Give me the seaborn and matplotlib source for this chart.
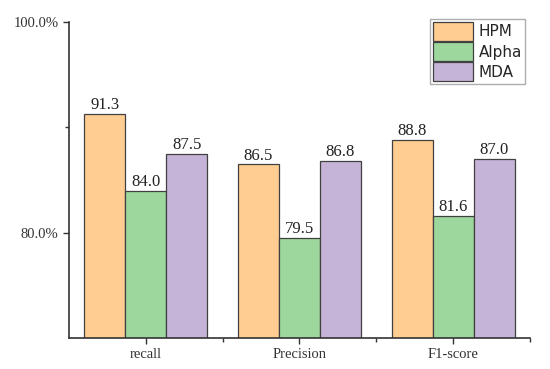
import pandas as pd
import seaborn as sns
import matplotlib.pyplot as plt
from matplotlib.ticker import FixedLocator

# data
metrics = ["recall", "Precision", "F1-score"]
hpm = [91.3, 86.5, 88.8]
alpha = [84.0, 79.5, 81.6]
mda = [87.5, 86.8, 87.0]

df = pd.DataFrame({
    "metric": metrics * 3,
    "method": ["HPM"] * 3 + ["Alpha"] * 3 + ["MDA"] * 3,
    "value": hpm + alpha + mda,
})

sns.set_style("ticks")
plt.rcParams["font.family"] = ["Liberation Serif", "DejaVu Serif"]

fig = plt.figure(figsize=(5.5, 3.69), dpi=100)
ax = fig.add_axes([0.1255, 0.084, 0.838, 0.856])

palette = {"HPM": "#FFCC92", "Alpha": "#9ED79E", "MDA": "#C6B4D8"}
sns.barplot(data=df, x="metric", y="value", hue="method", palette=palette,
            width=0.8, edgecolor="#404040", linewidth=0.9, saturation=1,
            ax=ax)

for cont in ax.containers:
    ax.bar_label(cont, fmt="%.1f", fontsize=12, padding=0.5, color="#222222")

ax.set_ylim(70, 100)
ax.set_xlim(-0.5, 2.5)
ax.set_yticks([80, 100])
ax.set_yticklabels(["80.0%", "100.0%"])
ax.yaxis.set_minor_locator(FixedLocator([90]))
ax.xaxis.set_minor_locator(FixedLocator([0.5, 1.5, 2.5]))
ax.tick_params(axis="both", which="major", labelsize=10.5, length=4,
               width=1, color="#333333", labelcolor="#333333")
ax.tick_params(axis="both", which="minor", length=3, width=1, color="#333333")
ax.set_xlabel("")
ax.set_ylabel("")
for side in ["left", "bottom"]:
    ax.spines[side].set_color("#333333")
    ax.spines[side].set_linewidth(1.2)
sns.despine(ax=ax)

leg = ax.legend(loc="upper right", bbox_to_anchor=(0.99, 1.01),
                prop={"family": "DejaVu Sans", "size": 11},
                frameon=True, fancybox=False, edgecolor="#999999",
                handlelength=2.6, handleheight=1.5, handletextpad=0.4,
                labelspacing=0.1, borderpad=0.2, borderaxespad=0.0)
leg.get_frame().set_linewidth(1.0)

fig.savefig("out.png", dpi=100)
